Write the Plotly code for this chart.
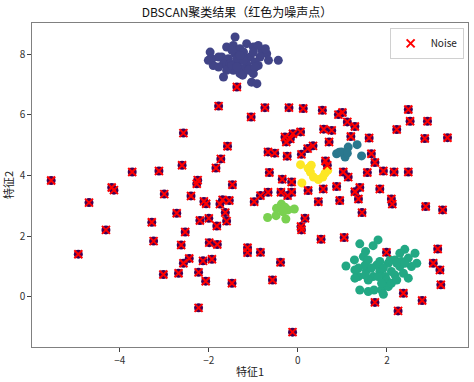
import plotly.graph_objects as go

# ---- data (feature1, feature2) per DBSCAN label ----
noise_x = [-1.37, -1.78, -1.05, -2.57, -1.58, -1.73, -1.84, -2.60, -3.12, -3.72, -2.25, -5.54, -1.47, -2.27,
           -4.18, -4.13, -3.00, -2.40, -2.11, -2.06, -1.69, -1.54, -1.75, -4.69, -2.72, -1.63, -3.28, -2.20,
           -2.00, -1.60, -1.82, -4.31, -2.53, -3.24, -2.62, -1.99, -1.81, -1.13, -1.13, -4.93, -2.44, -2.57,
           -2.13, -1.93, -3.02, -2.68, -2.23, -2.07, -1.48, -2.23,
           -0.74, -0.20, 0.12, 0.55, 0.91, 1.00, 1.11, 1.28, 2.48, 2.52, 2.91, 2.22, 2.85, 3.36, 0.58, 0.76,
           0.06, -0.11, -0.29, -0.26, -0.17, 1.19, 1.60, 0.70, 0.34, 0.22, 0.08, -0.67, -0.52, -0.24, 0.62,
           0.66, 1.65, 1.73, -0.64, -0.35, -0.14, 1.02, 1.13, 1.56, 1.92, 2.16, 2.48,
           -0.98, -0.84, -0.67, -0.38, -0.23, -0.14, 0.23, 0.57, 0.87, 1.28, 1.39, 1.36, 1.84, 2.10, 2.12,
           0.46, 0.94, 1.44, 2.87, 3.25, 0.16, 0.07, 0.08, 0.52, 1.04, -0.84, -0.39, -0.57, 1.99, 3.14,
           3.04, 3.19, 3.21, 2.37, 2.79, 1.73, 2.25, -0.12]
noise_y = [6.92, 6.29, 5.93, 5.40, 4.97, 4.55, 4.25, 4.34, 4.15, 4.12, 3.85, 3.84, 3.70, 3.73,
           3.61, 3.52, 3.39, 3.33, 3.15, 3.07, 3.20, 3.18, 3.06, 3.11, 2.76, 2.78, 2.46, 2.52,
           2.59, 2.50, 2.34, 2.21, 2.14, 1.84, 1.71, 1.79, 1.73, 1.62, 1.46, 1.41, 1.27, 1.11,
           1.19, 1.24, 0.74, 0.78, 0.81, 0.52, 0.45, -0.36,
           6.24, 6.24, 6.21, 6.15, 6.01, 6.08, 5.77, 5.62, 6.18, 5.79, 5.79, 5.52, 5.22, 5.25, 5.53, 5.49,
           5.44, 5.38, 5.27, 5.11, 5.21, 5.29, 5.24, 5.11, 4.98, 4.89, 4.70, 4.78, 4.74, 4.64, 4.48,
           4.34, 4.72, 4.43, 4.10, 3.88, 3.79, 4.12, 3.95, 4.10, 4.15, 4.12, 4.12,
           3.14, 3.34, 3.45, 3.45, 3.34, 3.45, 3.51, 3.56, 3.64, 3.47, 3.61, 3.23, 3.56, 3.23, 3.06,
           3.14, 3.18, 2.78, 2.98, 2.87, 2.59, 2.32, 2.21, 1.90, 1.96, 1.47, 1.14, 0.56, 1.47, 1.58,
           1.11, 0.89, 0.40, 0.12, -0.12, -0.18, -0.46, -1.16]

c0_x = [-1.41, -1.97, -1.93, -1.90, -1.71, -1.60, -1.45, -1.30, -1.15, -1.00, -0.81, -0.70, -0.85, -1.07,
        -1.22, -1.41, -1.56, -1.67, -1.52, -1.34, -1.15, -0.96, -0.89, -1.07, -1.26, -1.45, -1.60, -1.78,
        -1.30, -1.24, -1.67, -0.66, -0.44, -1.04, -0.92, -1.48, -1.22, -1.00, -1.37, -1.22, -1.78, -0.89,
        -1.48, -2.01, -1.11, -1.37, -1.00, -1.30, -0.96, -0.73]
c0_y = [8.57, 8.07, 7.85, 7.63, 7.91, 8.24, 8.29, 8.18, 8.35, 8.24, 8.13, 8.02, 7.91, 7.91,
        7.91, 8.02, 7.85, 7.69, 7.69, 7.74, 7.69, 7.74, 7.63, 7.52, 7.52, 7.47, 7.47, 7.58,
        7.36, 7.31, 7.25, 7.80, 7.80, 7.08, 7.03, 8.13, 8.07, 8.07, 7.85, 7.80, 7.91, 8.29,
        7.63, 7.80, 7.47, 7.58, 7.36, 7.96, 7.58, 8.18]

c1_x = [0.87, 0.98, 1.06, 1.13, 1.33, 1.43, 1.11, 0.93]
c1_y = [4.72, 4.78, 4.61, 4.94, 5.02, 4.65, 4.74, 4.77]

c2_x = [1.08, 1.27, 1.39, 1.52, 1.69, 1.80, 1.47, 1.54, 1.36, 1.39, 1.58, 1.71, 1.88, 1.92, 2.03, 1.77,
        1.84, 1.96, 2.10, 2.18, 2.29, 2.40, 2.48, 2.63, 2.67, 2.55, 2.33, 2.03, 1.99, 1.69, 1.58, 1.88,
        2.18, 2.37, 2.48, 1.51, 1.36, 1.28, 1.65, 2.10, 2.22, 1.84, 1.92, 2.29, 2.07, 1.80, 1.51, 1.28,
        2.22, 2.40, 1.58]
c2_y = [1.02, 1.22, 1.75, 1.50, 1.69, 1.88, 1.33, 0.87, 0.67, 0.23, 0.18, 0.23, 0.23, 0.09, 0.34, 1.05,
        0.84, 0.67, 0.84, 1.22, 1.00, 1.57, 0.62, 1.44, 1.11, 1.00, 1.17, 1.11, 0.56, 0.67, 0.56, 0.45,
        0.72, 0.78, 1.28, 1.05, 0.95, 0.89, 0.95, 0.45, 0.56, 1.17, 0.95, 1.44, 1.22, 0.67, 0.72, 0.62,
        1.11, 1.11, 1.22]

c3_x = [-0.68, -0.49, -0.48, -0.37, -0.29, -0.27, -0.22, -0.08, -0.33]
c3_y = [2.62, 2.68, 2.92, 3.06, 2.96, 2.57, 2.87, 2.90, 2.81]

c4_x = [0.06, 0.30, 0.28, 0.35, 0.46, 0.56, 0.67, 0.09, 0.23, 0.61]
c4_y = [4.36, 4.34, 4.12, 3.95, 3.87, 3.95, 4.17, 3.76, 4.24, 4.08]

x_ticks = [-4, -2, 0, 2]
y_ticks = [0, 2, 4, 6, 8]
title_text = "DBSCAN聚类结果（红色为噪声点）"
x_label = "特征1"
y_label = "特征2"
noise_label = "Noise"

groups = [
    (noise_x, noise_y, "#440154"),
    (c0_x, c0_y, "#414487"),
    (c1_x, c1_y, "#2a788e"),
    (c2_x, c2_y, "#22a884"),
    (c3_x, c3_y, "#7ad151"),
    (c4_x, c4_y, "#fde725"),
]

FONT = "Noto Sans CJK SC, DejaVu Sans, sans-serif"
fig = go.Figure()
for gx, gy, col in groups:
    fig.add_trace(go.Scatter(x=gx, y=gy, mode="markers", showlegend=False,
                             marker=dict(color=col, size=9, line=dict(width=0)),
                             hoverinfo="skip"))
fig.add_trace(go.Scatter(x=noise_x, y=noise_y, mode="markers", name=noise_label,
                         marker=dict(symbol="x-thin", size=8, color="red",
                                     line=dict(color="red", width=2))))

axis_common = dict(showline=True, linecolor="#808080", linewidth=1.3, mirror=True,
                   ticks="outside", ticklen=3.5, tickcolor="#404040", tickwidth=1,
                   showgrid=False, zeroline=False, automargin=False,
                   tickfont=dict(family=FONT, size=10, color="#333"),
                   title_font=dict(family=FONT, size=11, color="#222"))
fig.update_xaxes(range=[-5.97, 3.82], tickvals=x_ticks, title_text=x_label,
                 title_standoff=2, **axis_common)
fig.update_yaxes(range=[-1.65, 9.03], tickvals=y_ticks, title_text=y_label,
                 title_standoff=4, **axis_common)

fig.update_layout(
    width=474, height=382,
    margin=dict(l=32, r=6, t=23, b=35),
    paper_bgcolor="white", plot_bgcolor="white",
    title=dict(text=title_text, x=0.5, xanchor="center", y=0.966, yanchor="middle",
               font=dict(family=FONT, size=12, color="#111")),
    legend=dict(x=0.99, y=0.985, xanchor="right", yanchor="top",
                bgcolor="rgba(255,255,255,0.85)", bordercolor="#d0d0d0", borderwidth=1,
                font=dict(family=FONT, size=10, color="#222"),
                itemwidth=30, tracegroupgap=0),
)
fig.write_html("out.html", config={"displayModeBar": False},
               post_script="document.body.style.margin='0';document.body.style.overflow='hidden';")
